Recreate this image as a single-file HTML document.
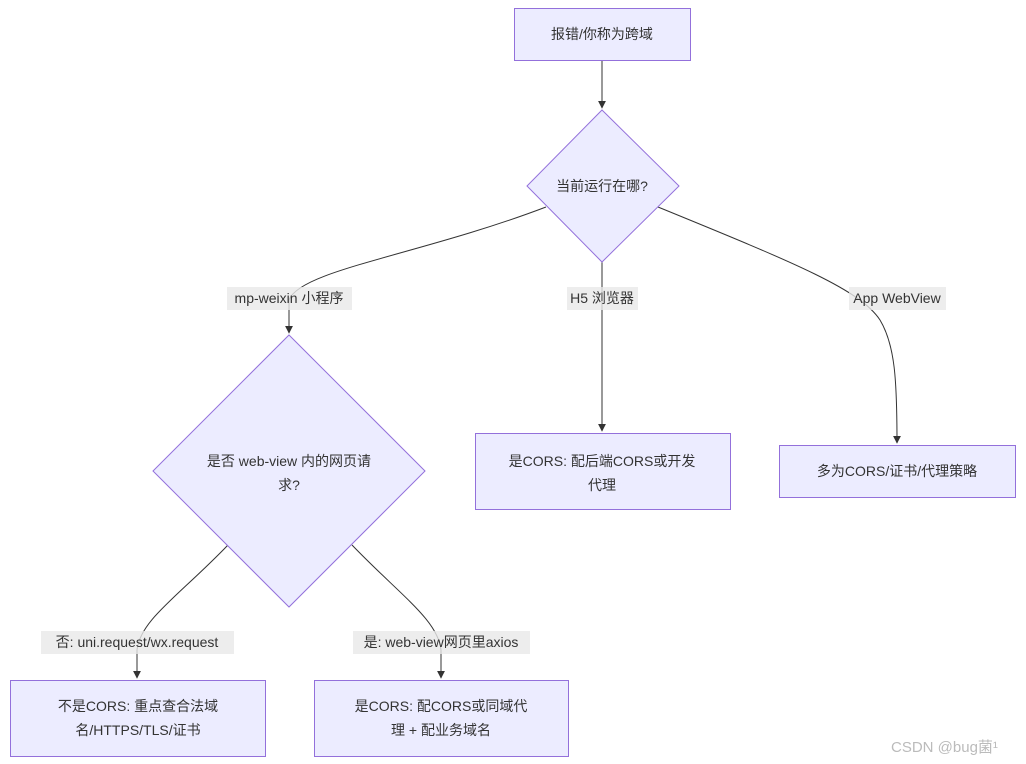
<!DOCTYPE html>
<html><head><meta charset="utf-8"><style>
html,body{margin:0;padding:0;background:#fff;width:1026px;height:764px;overflow:hidden}
text{font-family:"Liberation Sans","Noto Sans CJK SC",sans-serif;font-size:14px;fill:#333}
</style></head><body>
<svg width="1026" height="764" viewBox="0 0 1026 764" xmlns="http://www.w3.org/2000/svg">
<defs><marker id="a" viewBox="0 0 10 10" refX="9" refY="5" markerWidth="8" markerHeight="8" orient="auto"><path d="M0,0L10,5L0,10z" fill="#333"/></marker></defs>
<g fill="none" stroke="#333" stroke-width="1">
<path d="M602,60 L602,108" marker-end="url(#a)"/>
<path d="M546,207 C420,255 300,270 289,300 L289,333" marker-end="url(#a)"/>
<path d="M602,262 L602,431" marker-end="url(#a)"/>
<path d="M658,207 C800,265 860,290 880,320 C895,345 897,380 897,443" marker-end="url(#a)"/>
<path d="M228,545 C180,595 140,620 137,650 L137,678" marker-end="url(#a)"/>
<path d="M352,545 C400,595 438,620 441,650 L441,678" marker-end="url(#a)"/>
</g>
<g fill="#ececff" stroke="#9370db" stroke-width="1">
<rect x="514.5" y="8.5" width="176" height="52"/>
<polygon points="602,110 679,186 602,262 527,186"/>
<polygon points="289,335 425,471 289,607 153,471"/>
<rect x="475.5" y="433.5" width="255" height="76"/>
<rect x="779.5" y="445.5" width="236" height="52"/>
<rect x="10.5" y="680.5" width="255" height="76"/>
<rect x="314.5" y="680.5" width="254" height="76"/>
</g>
<g fill="#e8e8e8" opacity="0.8">
<rect x="227" y="287" width="125" height="23"/>
<rect x="567" y="287" width="71" height="23"/>
<rect x="849" y="287" width="97" height="23"/>
<rect x="41" y="631" width="193" height="23"/>
<rect x="353" y="631" width="177" height="23"/>
</g>
<g text-anchor="middle">
<text x="602" y="39">报错/你称为跨域</text>
<text x="602" y="191">当前运行在哪?</text>
<text x="289" y="466">是否 web-view 内的网页请</text>
<text x="289" y="490">求?</text>
<text x="602" y="466">是CORS: 配后端CORS或开发</text>
<text x="602" y="490">代理</text>
<text x="897" y="476">多为CORS/证书/代理策略</text>
<text x="138" y="711">不是CORS: 重点查合法域</text>
<text x="138" y="735">名/HTTPS/TLS/证书</text>
<text x="441" y="711">是CORS: 配CORS或同域代</text>
<text x="441" y="735">理 + 配业务域名</text>
<text x="289" y="303">mp-weixin 小程序</text>
<text x="602" y="303">H5 浏览器</text>
<text x="897" y="303">App WebView</text>
<text x="137" y="647">否: uni.request/wx.request</text>
<text x="441" y="647">是: web-view网页里axios</text>
</g>
<text x="891" y="752" style="font-size:15px;fill:#bbb">CSDN @bug菌¹</text>
</svg>
</body></html>
